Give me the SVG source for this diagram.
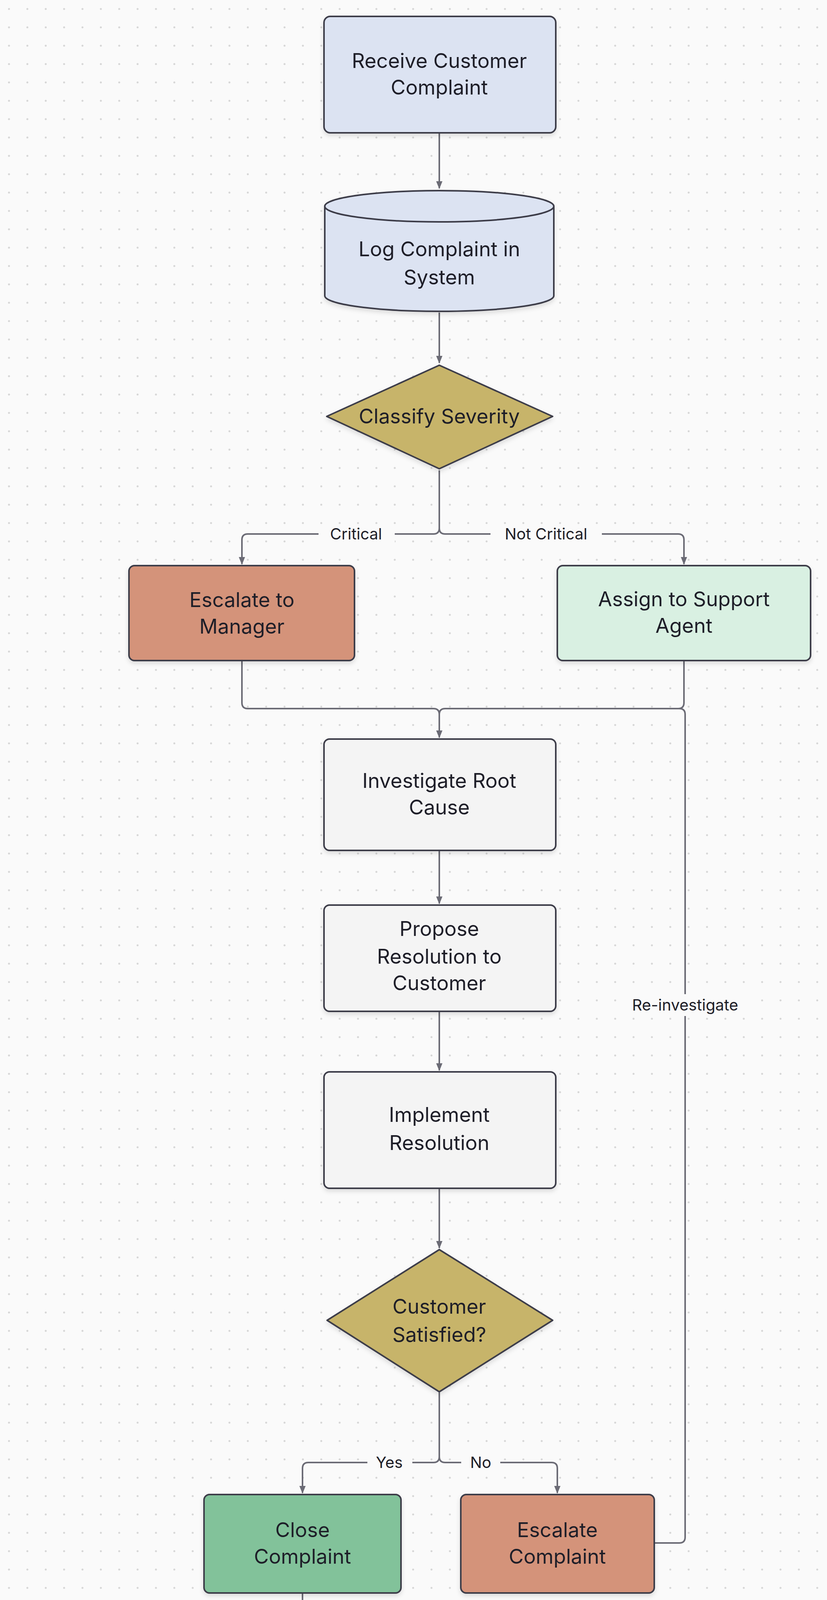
<svg xmlns="http://www.w3.org/2000/svg" width="2116" height="5080" viewBox="0 0 2116 5080">
<defs>
<pattern id="dots" width="47" height="47" patternUnits="userSpaceOnUse"><circle cx="23" cy="23" r="2.5" fill="#d6d6d6"/></pattern>
<marker id="arr" viewBox="0 0 10 10" refX="9" refY="5" markerWidth="5" markerHeight="5" orient="auto" markerUnits="strokeWidth"><path d="M0,1 L10,5 L0,9 z" fill="#6b6b75"/></marker>
<filter id="sh" x="-10%" y="-10%" width="120%" height="130%"><feDropShadow dx="0" dy="6" stdDeviation="6" flood-color="#000" flood-opacity="0.12"/></filter>
</defs>
<style>
.n{stroke:#3c3c48;stroke-width:4;filter:url(#sh)}
.t{font-family:Inter,"Noto Sans",sans-serif;font-size:52px;fill:#1e1e28;text-anchor:middle}
.l{font-family:Inter,"Noto Sans",sans-serif;font-size:40px;fill:#1e1e28;text-anchor:middle}
.c{fill:none;stroke:#6b6b75;stroke-width:4}
.bg{fill:#fafafa}
</style>
<rect width="2116" height="5080" fill="#fafafa"/>
<rect width="2116" height="5080" fill="url(#dots)"/>
<g id="connectors">
<path class="c" d="M1124,340 V482" marker-end="url(#arr)"/>
<path class="c" d="M1124,800 V929" marker-end="url(#arr)"/>
<path class="c" d="M1124,1204 V1352 q0,15 -15,15 H634 q-15,0 -15,15 V1444" marker-end="url(#arr)"/>
<path class="c" d="M1124,1352 q0,15 15,15 H1735 q15,0 15,15 V1444" marker-end="url(#arr)"/>
<rect class="bg" x="815" y="1342" width="195" height="50"/>
<rect class="bg" x="1255" y="1342" width="285" height="50"/>
<text class="l" x="911" y="1381">Critical</text>
<text class="l" x="1397" y="1381">Not Critical</text>
<path class="c" d="M619,1691 V1799 q0,15 15,15 H1109 q15,0 15,15 V1888" marker-end="url(#arr)"/>
<path class="c" d="M1750,1691 V1799 q0,15 -15,15 H1139 q-15,0 -15,15"/>
<path class="c" d="M1674,3950 H1738 q15,0 15,-15 V1829 q0,-15 -15,-15 H1139"/>
<rect class="bg" x="1590" y="2545" width="326" height="56"/>
<text class="l" x="1753" y="2587">Re-investigate</text>
<path class="c" d="M1124,2177 V2313" marker-end="url(#arr)"/>
<path class="c" d="M1124,2589 V2740" marker-end="url(#arr)"/>
<path class="c" d="M1124,3042 V3195" marker-end="url(#arr)"/>
<path class="c" d="M1124,3565 V3729 q0,15 -15,15 H789 q-15,0 -15,15 V3822" marker-end="url(#arr)"/>
<path class="c" d="M1124,3729 q0,15 15,15 H1411 q15,0 15,15 V3822" marker-end="url(#arr)"/>
<rect class="bg" x="940" y="3719" width="115" height="50"/>
<rect class="bg" x="1180" y="3719" width="100" height="50"/>
<text class="l" x="996" y="3758">Yes</text>
<text class="l" x="1230" y="3758">No</text>
<path class="c" d="M774,4078 V4172 q0,15 15,15 H1109 q15,0 15,15 V4267" marker-end="url(#arr)"/>
<path class="c" d="M1124,4554 V4713" marker-end="url(#arr)"/>
</g>
<g id="receive"><rect class="n" x="829" y="42" width="593" height="298" rx="16" fill="#dce3f2"/>
<text class="t" x="1124" y="174">Receive Customer</text><text class="t" x="1124" y="242">Complaint</text></g>
<g id="log"><path class="n" d="M831,528 A293,40 0 0 1 1417,528 V757 A293,40 0 0 1 831,757 Z" fill="#dce3f2"/>
<path d="M831,528 A293,40 0 0 0 1417,528" fill="none" stroke="#3c3c48" stroke-width="4"/>
<text class="t" x="1124" y="656">Log Complaint in</text><text class="t" x="1124" y="728">System</text></g>
<g id="classify"><path class="n" d="M1124,935 L1414,1066 L1124,1200 L836,1066 Z" stroke-linejoin="round" fill="#c7b46a"/>
<text class="t" x="1124" y="1084">Classify Severity</text></g>
<g id="escmgr"><rect class="n" x="330" y="1448" width="577" height="243" rx="14" fill="#d4937a"/>
<text class="t" x="619" y="1554">Escalate to</text><text class="t" x="619" y="1622">Manager</text></g>
<g id="assign"><rect class="n" x="1426" y="1448" width="648" height="243" rx="14" fill="#d9f0e2"/>
<text class="t" x="1750" y="1552">Assign to Support</text><text class="t" x="1750" y="1620">Agent</text></g>
<g id="investigate"><rect class="n" x="829" y="1892" width="593" height="285" rx="14" fill="#f4f4f4"/>
<text class="t" x="1124" y="2017">Investigate Root</text><text class="t" x="1124" y="2085">Cause</text></g>
<g id="propose"><rect class="n" x="829" y="2317" width="593" height="272" rx="14" fill="#f4f4f4"/>
<text class="t" x="1124" y="2396">Propose</text><text class="t" x="1124" y="2467">Resolution to</text><text class="t" x="1124" y="2535">Customer</text></g>
<g id="implement"><rect class="n" x="829" y="2744" width="593" height="298" rx="14" fill="#f4f4f4"/>
<text class="t" x="1124" y="2872">Implement</text><text class="t" x="1124" y="2944">Resolution</text></g>
<g id="satisfied"><path class="n" d="M1124,3199 L1414,3380 L1124,3563 L837,3380 Z" stroke-linejoin="round" fill="#c7b46a"/>
<text class="t" x="1124" y="3363">Customer</text><text class="t" x="1124" y="3435">Satisfied?</text></g>
<g id="close"><rect class="n" x="522" y="3826" width="504" height="252" rx="14" fill="#82c29a"/>
<text class="t" x="774" y="3935">Close</text><text class="t" x="774" y="4003">Complaint</text></g>
<g id="esccomp"><rect class="n" x="1179" y="3826" width="495" height="252" rx="14" fill="#d4937a"/>
<text class="t" x="1426" y="3935">Escalate</text><text class="t" x="1426" y="4003">Complaint</text></g>
<g id="document"><rect class="n" x="828" y="4271" width="596" height="283" rx="14" fill="#f4f4f4"/>
<text class="t" x="1124" y="4395">Document</text><text class="t" x="1124" y="4463">Lessons Learned</text></g>
<g id="update"><path class="n" d="M831,4757 A293,40 0 0 1 1417,4757 V4996 A293,40 0 0 1 831,4996 Z" fill="#e8daf8"/>
<path d="M831,4757 A293,40 0 0 0 1417,4757" fill="none" stroke="#3c3c48" stroke-width="4"/>
<text class="t" x="1124" y="4884">Update</text><text class="t" x="1124" y="4952">Knowledge Base</text></g>
</svg>
